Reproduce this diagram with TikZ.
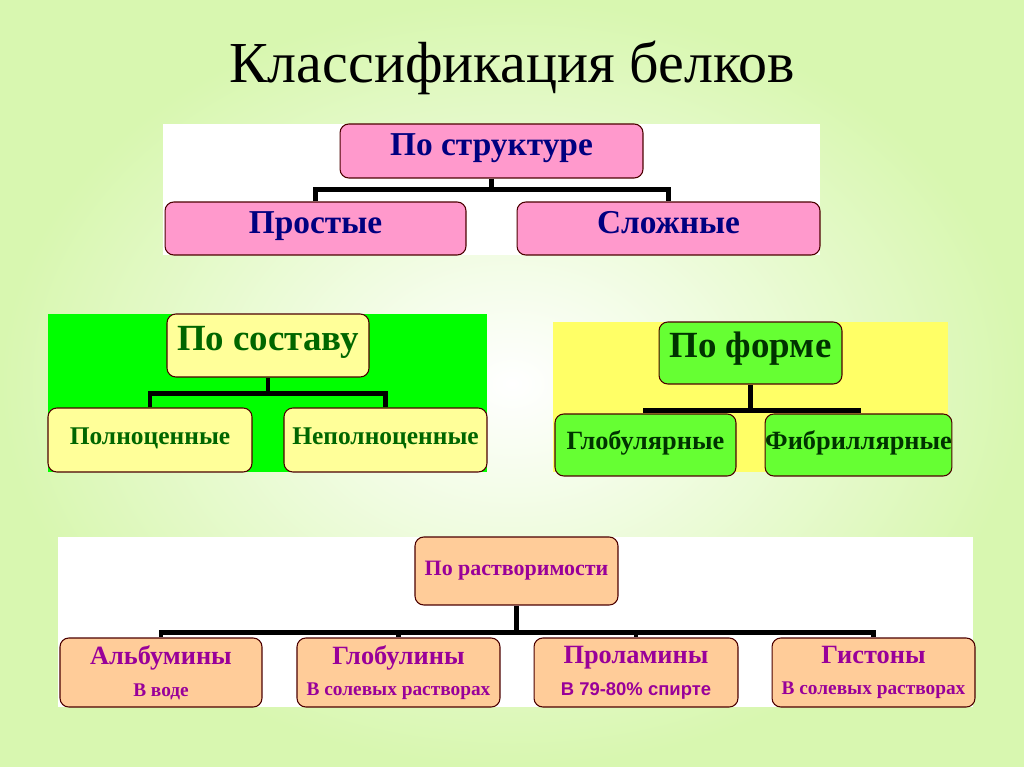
\documentclass[tikz,border=0pt]{standalone}
\usepackage{fontspec}
\setmainfont{Liberation Serif}
\newfontfamily\sansfont{Liberation Sans}
\usetikzlibrary{positioning, calc}
\definecolor{bgreen}{HTML}{D8F7B0}
\definecolor{pinkbox}{HTML}{FF99CC}
\definecolor{navytext}{HTML}{000080}
\definecolor{limepanel}{HTML}{00FF00}
\definecolor{yellowbox}{HTML}{FFFF99}
\definecolor{greentext}{HTML}{006600}
\definecolor{yellowpanel}{HTML}{FFFF66}
\definecolor{formbox}{HTML}{66FF33}
\definecolor{formtext}{HTML}{003300}
\definecolor{peachbox}{HTML}{FFCC99}
\definecolor{purpletext}{HTML}{990099}
\begin{document}
\begin{tikzpicture}[x=0.02cm, y=-0.02cm, font=\bfseries]
    \tikzset{
      card/.style={rectangle, rounded corners=5pt, draw=black!70!red, line width=0.6pt,
        align=center, inner sep=0pt},
      oneline/.style={text height=1.5ex, text depth=0.3ex},
      branch/.style={line width=2.4pt, black}
    }
    % background
    \fill[bgreen] (0,0) rectangle (1024,767);
    \shade[inner color=white, outer color=bgreen] (0,0) rectangle (1024,767);
    \useasboundingbox (0,0) rectangle (1024,767);
    \node (title) at (512,68) {\mdseries\fontsize{33}{38}\selectfont Классификация белков};

    % panels
    \fill[white] (163,124) rectangle (820,255);
    \fill[limepanel] (48,314) rectangle (487,472);
    \fill[yellowpanel] (553,322) rectangle (948,472);
    \fill[white] (58,537) rectangle (973,707);

    % structure
    \node (struct) [card, oneline, fill=pinkbox, minimum width=6.06cm, minimum height=1.08cm, text=navytext,
      font=\bfseries\fontsize{19}{21}\selectfont] at (491.5,151) {По структуре};
    \node (simple) [card, oneline, fill=pinkbox, minimum width=6.02cm, minimum height=1.06cm, text=navytext,
      font=\bfseries\fontsize{19}{21}\selectfont] at (315.5,228.5) {Простые};
    \node (complex) [card, oneline, fill=pinkbox, minimum width=6.06cm, minimum height=1.06cm, text=navytext,
      font=\bfseries\fontsize{19}{21}\selectfont] at (668.5,228.5) {Сложные};
    \draw[branch] (struct.south) -- ++(0,11) -| (simple.north);
    \draw[branch] (struct.south) ++(0,11) -| (complex.north);

    % composition
    \node (compos) [card, oneline, fill=yellowbox, minimum width=4.04cm, minimum height=1.26cm, text=greentext,
      font=\bfseries\fontsize{21}{23}\selectfont] at (268,345.5) {По составу};
    \node (full) [card, oneline, fill=yellowbox, minimum width=4.08cm, minimum height=1.28cm, text=greentext,
      font=\bfseries\fontsize{14.5}{16}\selectfont] at (150,440) {Полноценные};
    \node (partial) [card, oneline, fill=yellowbox, minimum width=4.06cm, minimum height=1.28cm, text=greentext,
      font=\bfseries\fontsize{14.5}{16}\selectfont] at (385.5,440) {Неполноценные};
    \draw[branch] (compos.south) -- ++(0,16) -| (full.north);
    \draw[branch] (compos.south) ++(0,16) -| (partial.north);

    % shape
    \node (shape) [card, oneline, fill=formbox, minimum width=3.66cm, minimum height=1.24cm, text=formtext,
      font=\bfseries\fontsize{21}{23}\selectfont] at (750.5,353) {По форме};
    \node (globular) [card, oneline, fill=formbox, minimum width=3.62cm, minimum height=1.24cm, text=formtext,
      font=\bfseries\fontsize{15}{17}\selectfont] at (645.5,445) {Глобулярные};
    \node (fibrous) [card, oneline, fill=formbox, minimum width=3.66cm, minimum height=1.24cm, text=formtext,
      font=\bfseries\fontsize{15}{17}\selectfont] at (858.5,445) {Фибриллярные};
    \draw[branch] (shape.south) -- ++(0,26) -| (globular.north);
    \draw[branch] (shape.south) ++(0,26) -| (fibrous.north);

    % solubility
    \node (solub) [card, oneline, fill=peachbox, minimum width=4.06cm, minimum height=1.36cm, text=purpletext,
      font=\bfseries\fontsize{12.5}{14}\selectfont] at (516.5,571) {По растворимости};
    \node (albumin) [card, fill=peachbox, minimum width=4.04cm, minimum height=1.38cm, text=purpletext,
      font=\bfseries\fontsize{15}{18}\selectfont] at (161,672.5)
      {Альбумины\\{\fontsize{11}{13}\selectfont В воде}};
    \node (globulin) [card, fill=peachbox, minimum width=4.06cm, minimum height=1.38cm, text=purpletext,
      font=\bfseries\fontsize{15}{18}\selectfont] at (398.5,672.5)
      {Глобулины\\{\fontsize{11}{13}\selectfont В солевых растворах}};
    \node (prolamin) [card, fill=peachbox, minimum width=4.08cm, minimum height=1.38cm, text=purpletext,
      font=\bfseries\fontsize{15}{18}\selectfont] at (636,672.5)
      {Проламины\\{\sansfont\fontsize{10.5}{13}\selectfont В 79-80\% спирте}};
    \node (histone) [card, fill=peachbox, minimum width=4.06cm, minimum height=1.38cm, text=purpletext,
      font=\bfseries\fontsize{15}{18}\selectfont] at (873.5,672.5)
      {Гистоны\\{\fontsize{11}{13}\selectfont В солевых растворах}};
    \draw[branch] (solub.south) -- ++(0,27) coordinate (hub);
    \foreach \child in {albumin, globulin, prolamin, histone}
      \draw[branch] (hub) -| (\child.north);
\end{tikzpicture}
\end{document}
